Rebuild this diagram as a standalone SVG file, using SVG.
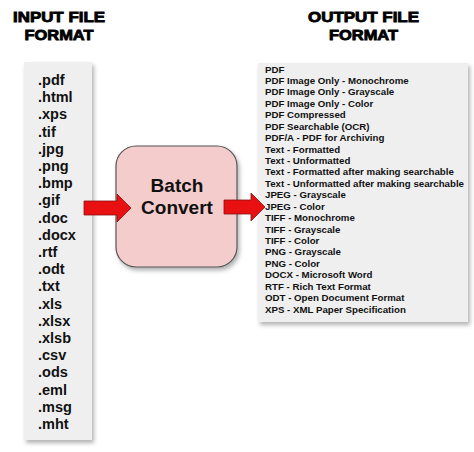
<svg xmlns="http://www.w3.org/2000/svg" width="474" height="452" viewBox="0 0 474 452">
<defs>
<filter id="sh" x="-10%" y="-10%" width="130%" height="130%">
<feDropShadow dx="2" dy="3" stdDeviation="2" flood-color="#000" flood-opacity="0.3"/>
</filter>
<style>
text{font-family:"Liberation Sans",Arial,sans-serif;font-weight:bold;fill:#111}
.hd{font-size:15.5px;stroke:#000;stroke-width:0.9;fill:#000;text-anchor:middle}
.in{font-size:14.5px}
.out{font-size:9.7px}
.list{fill:#efefef}
.arr{fill:#e81010;stroke:#8a1010;stroke-width:0.8}
.bc{font-size:19px;text-anchor:middle}
</style>
</defs>
<rect width="474" height="452" fill="#fff"/>
<g id="input-title">
<text class="hd" x="59" y="22" textLength="92" lengthAdjust="spacingAndGlyphs">INPUT FILE</text>
<text class="hd" x="59" y="40" textLength="69" lengthAdjust="spacingAndGlyphs">FORMAT</text>
</g>
<g id="output-title">
<text class="hd" x="363.5" y="22" textLength="111" lengthAdjust="spacingAndGlyphs">OUTPUT FILE</text>
<text class="hd" x="363.5" y="40" textLength="69" lengthAdjust="spacingAndGlyphs">FORMAT</text>
</g>
<g id="input-list">
<rect class="list" x="24" y="62" width="68" height="378" filter="url(#sh)"/>
<text class="in" x="38" y="85">.pdf</text>
<text class="in" x="38" y="102.2">.html</text>
<text class="in" x="38" y="119.4">.xps</text>
<text class="in" x="38" y="136.6">.tif</text>
<text class="in" x="38" y="153.8">.jpg</text>
<text class="in" x="38" y="171">.png</text>
<text class="in" x="38" y="188.2">.bmp</text>
<text class="in" x="38" y="205.4">.gif</text>
<text class="in" x="38" y="222.6">.doc</text>
<text class="in" x="38" y="239.8">.docx</text>
<text class="in" x="38" y="257">.rtf</text>
<text class="in" x="38" y="274.2">.odt</text>
<text class="in" x="38" y="291.4">.txt</text>
<text class="in" x="38" y="308.6">.xls</text>
<text class="in" x="38" y="325.8">.xlsx</text>
<text class="in" x="38" y="343">.xlsb</text>
<text class="in" x="38" y="360.2">.csv</text>
<text class="in" x="38" y="377.4">.ods</text>
<text class="in" x="38" y="394.6">.eml</text>
<text class="in" x="38" y="411.8">.msg</text>
<text class="in" x="38" y="429">.mht</text>
</g>
<g id="batch-convert">
<rect x="116" y="146" width="121" height="121" rx="20" fill="#f4cccc" stroke="#555" stroke-width="1.2" filter="url(#sh)"/>
<text class="bc" x="177" y="192">Batch</text>
<text class="bc" x="177" y="214">Convert</text>
</g>
<g id="output-list">
<rect class="list" x="258" y="63" width="210" height="259" filter="url(#sh)"/>
<text class="out" x="265" y="72.5">PDF</text>
<text class="out" x="265" y="83.9">PDF Image Only - Monochrome</text>
<text class="out" x="265" y="95.4">PDF Image Only - Grayscale</text>
<text class="out" x="265" y="106.8">PDF Image Only - Color</text>
<text class="out" x="265" y="118.2">PDF Compressed</text>
<text class="out" x="265" y="129.6">PDF Searchable (OCR)</text>
<text class="out" x="265" y="141.1">PDF/A - PDF for Archiving</text>
<text class="out" x="265" y="152.5">Text - Formatted</text>
<text class="out" x="265" y="163.9">Text - Unformatted</text>
<text class="out" x="265" y="175.4">Text - Formatted after making searchable</text>
<text class="out" x="265" y="186.8">Text - Unformatted after making searchable</text>
<text class="out" x="265" y="198.2">JPEG - Grayscale</text>
<text class="out" x="265" y="209.7">JPEG - Color</text>
<text class="out" x="265" y="221.1">TIFF - Monochrome</text>
<text class="out" x="265" y="232.5">TIFF - Grayscale</text>
<text class="out" x="265" y="244">TIFF - Color</text>
<text class="out" x="265" y="255.4">PNG - Grayscale</text>
<text class="out" x="265" y="266.8">PNG - Color</text>
<text class="out" x="265" y="278.3">DOCX - Microsoft Word</text>
<text class="out" x="265" y="289.7">RTF - Rich Text Format</text>
<text class="out" x="265" y="301.1">ODT - Open Document Format</text>
<text class="out" x="265" y="312.5">XPS - XML Paper Specification</text>
</g>
<g id="connectors">
<polygon class="arr" points="84,201 117,201 117,194 131,208 117,222 117,215 84,215"/>
<polygon class="arr" points="224,200 251,200 251,193 265,207 251,221 251,214 224,214"/>
</g>
</svg>
